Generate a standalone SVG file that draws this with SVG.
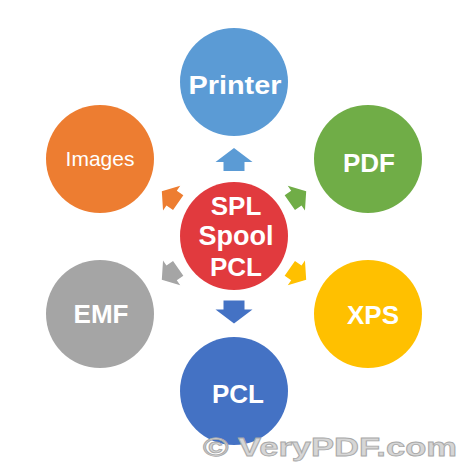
<svg xmlns="http://www.w3.org/2000/svg" width="474" height="474" viewBox="0 0 474 474">
<style>
.lbl{font-family:"Liberation Sans",Arial,sans-serif;font-weight:bold;fill:#fff;text-anchor:middle}
.reg{font-family:"Liberation Sans",Arial,sans-serif;font-weight:normal;fill:#fff;text-anchor:middle}
.wm{font-family:"Liberation Sans",Arial,sans-serif;font-weight:bold;fill:#d6d6d6;stroke:#a9a9a9;stroke-width:0.8}
</style>
<defs>
<path id="arr" d="M0,-11.5 L18.5,2.5 L10.5,2.5 L10.5,11.5 L-10.5,11.5 L-10.5,2.5 L-18.5,2.5 Z"/>
<path id="darr" d="M0,-10 L15,2 L9,2 L9,10 L-9,10 L-9,2 L-15,2 Z"/>
</defs>
<rect width="474" height="474" fill="#fff"/>
<g id="connectors">
<use href="#arr" fill="#5B9BD5" transform="translate(234,159.5)"/>
<use href="#arr" fill="#4472C4" transform="translate(234,312) rotate(180)"/>
<use href="#darr" fill="#ED7D31" transform="translate(170,197) rotate(-55)"/>
<use href="#darr" fill="#70AD47" transform="translate(298,197) rotate(55)"/>
<use href="#darr" fill="#A5A5A5" transform="translate(170,274) rotate(-125)"/>
<use href="#darr" fill="#FFC000" transform="translate(298,274) rotate(125)"/>
</g>
<g id="printer"><circle cx="234" cy="82" r="54" fill="#5B9BD5"/><text class="lbl" x="235" y="94" font-size="25" textLength="93" lengthAdjust="spacingAndGlyphs">Printer</text></g>
<g id="images"><circle cx="100" cy="159" r="54" fill="#ED7D31"/><text class="reg" x="100" y="166" font-size="21">Images</text></g>
<g id="pdf"><circle cx="368" cy="159" r="54" fill="#70AD47"/><text class="lbl" x="369" y="172" font-size="26">PDF</text></g>
<g id="center"><circle cx="234" cy="236" r="54" fill="#E13A3E"/>
<text class="lbl" x="236" y="215" font-size="26">SPL</text>
<text class="lbl" x="236" y="245" font-size="27">Spool</text>
<text class="lbl" x="236" y="276" font-size="26">PCL</text></g>
<g id="emf"><circle cx="100" cy="314" r="54" fill="#A5A5A5"/><text class="lbl" x="101" y="323" font-size="26">EMF</text></g>
<g id="xps"><circle cx="368" cy="314" r="54" fill="#FFC000"/><text class="lbl" x="373" y="324" font-size="26">XPS</text></g>
<g id="pcl"><circle cx="234" cy="391" r="54" fill="#4472C4"/><text class="lbl" x="238" y="403" font-size="26">PCL</text></g>
<text class="wm" x="203" y="456" font-size="25" textLength="254" lengthAdjust="spacingAndGlyphs">© VeryPDF.com</text>
</svg>
